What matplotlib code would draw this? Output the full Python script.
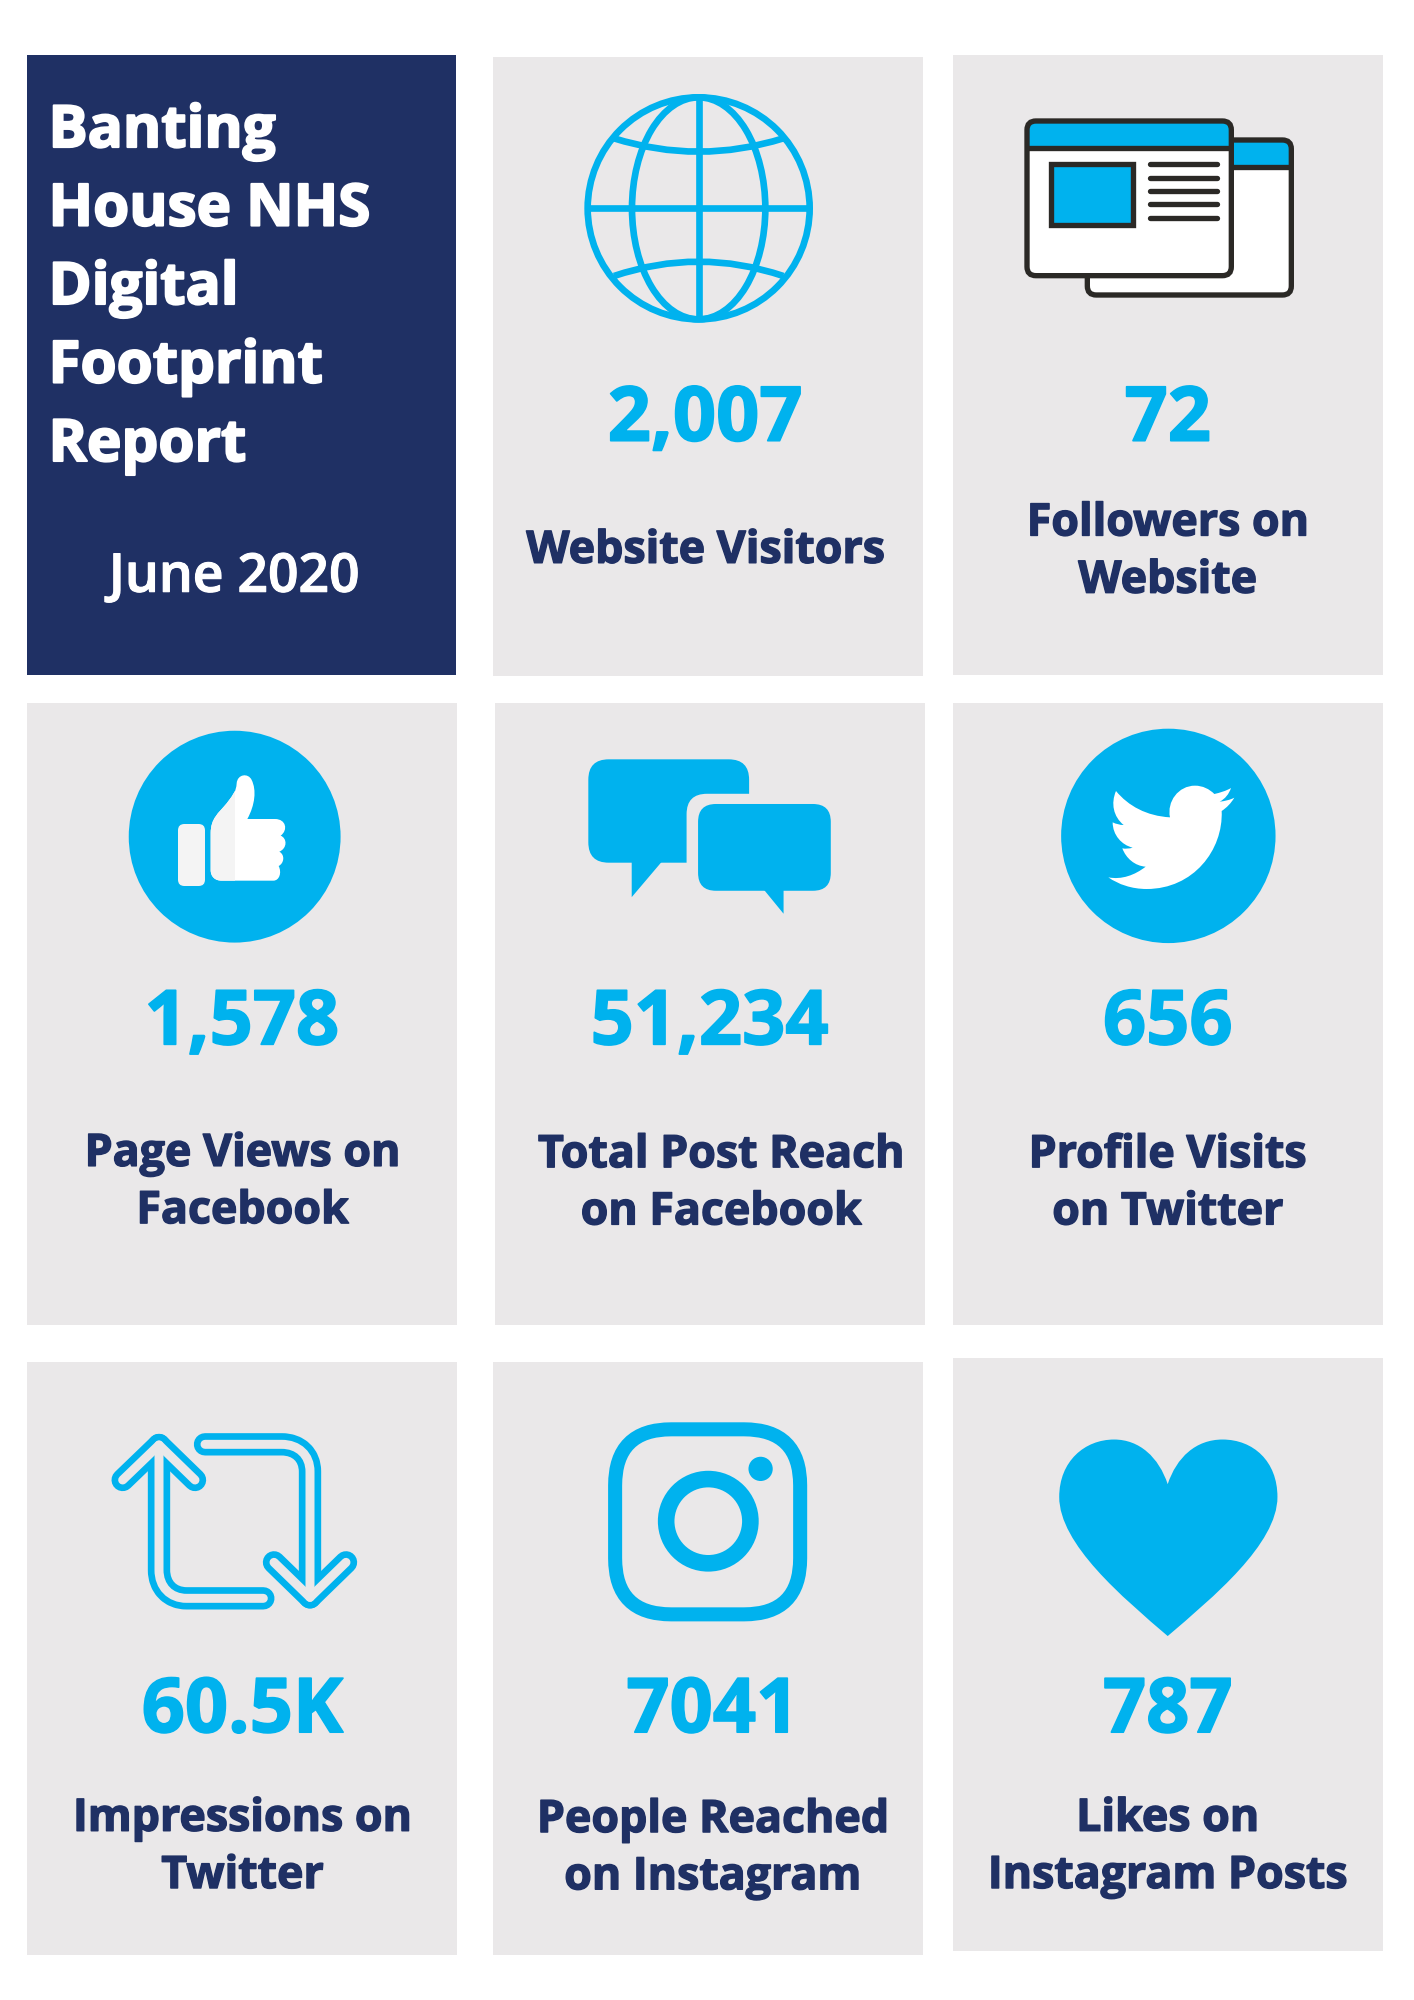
import numpy as np
import matplotlib
matplotlib.use("Agg")
import matplotlib.pyplot as plt
from matplotlib.patches import Rectangle, Circle, Ellipse, FancyBboxPatch, Polygon, PathPatch
from matplotlib.path import Path
import matplotlib.patheffects as pe

plt.rcParams['font.family'] = ['Open Sans', 'DejaVu Sans']

NAVY = '#1f3064'; BLUE = '#00b2ee'; GREY = '#eae8e9'; DARK = '#2b2926'

values = ['2,007', '72', '1,578', '51,234', '656', '60.5K', '7041', '787']
labels = ['Website Visitors', 'Followers on\nWebsite', 'Page Views on\nFacebook', 'Total Post Reach\non Facebook',
          'Profile Visits\non Twitter', 'Impressions on\nTwitter', 'People Reached\non Instagram', 'Likes on\nInstagram Posts']
title_lines = ['Banting', 'House NHS', 'Digital', 'Footprint', 'Report']
date_label = 'June 2020'

panels = [(21, 43, 336, 486), (386, 45, 337, 485), (747, 43, 337, 486),
          (21, 551, 337, 487), (388, 551, 337, 487), (747, 551, 337, 487),
          (21, 1067, 337, 465), (386, 1067, 337, 465), (747, 1064, 337, 465)]
value_pos = [(552.5, 323), (915, 323), (189.5, 796), (556, 796), (915, 796), (190, 1335), (558.5, 1335), (915, 1335)]
label_pos = [(553, 432), (915, 433), (190, 927), (565, 928), (915, 928), (190, 1448), (558.5, 1449), (915, 1448)]

S = 1414 / 1108
fig = plt.figure(figsize=(14.14, 20), dpi=100)
ax = fig.add_axes([0, 0, 1, 1])
ax.set_xlim(0, 1108); ax.set_ylim(2000 / S, 0); ax.axis('off')

def lw(px):
    return px * S * 0.72

def crop(x0, y0):
    return lambda x, y: ((x / 3 + x0) / S, (y / 3 + y0) / S)

def zlw(z):
    return z / 3 * 0.72

def stroke(w, c):
    return [pe.withStroke(linewidth=w, foreground=c)]

for i, (x, y, w, h) in enumerate(panels):
    ax.add_patch(Rectangle((x, y), w, h, fc=NAVY if i == 0 else GREY, ec='none'))

for i, t in enumerate(title_lines):
    ax.text(38, 98 + i * 61.5, t, color='white', fontsize=42, fontweight='bold', ha='left',
            va='center_baseline', path_effects=stroke(1.5, 'white'))
ax.text(183.5, 448, date_label, color='white', fontsize=38.5, fontweight='semibold', ha='center',
        va='center_baseline', path_effects=stroke(0.8, 'white'))

for v, (x, y) in zip(values, value_pos):
    ax.text(x, y, v, color=BLUE, fontsize=54.5, fontweight='bold', ha='center', va='center_baseline',
            path_effects=stroke(1.2, BLUE))
for l, (x, y) in zip(labels, label_pos):
    ax.text(x, y, l, color=NAVY, fontsize=32.2, fontweight='bold', ha='center', va='center', linespacing=1.36,
            path_effects=stroke(1.0, NAVY))

def rr(x, y, w, h, rad, **k):
    ax.add_patch(FancyBboxPatch((x + rad, y + rad), w - 2 * rad, h - 2 * rad, boxstyle=f'round,pad={rad}', **k))

def curve(z, pts, **k):
    verts = [z(*pts[0])]; codes = [Path.MOVETO]
    for seg in pts[1:]:
        if len(seg) == 6:
            verts += [z(seg[0], seg[1]), z(seg[2], seg[3]), z(seg[4], seg[5])]; codes += [Path.CURVE4] * 3
        elif len(seg) == 4:
            verts += [z(seg[0], seg[1]), z(seg[2], seg[3])]; codes += [Path.CURVE3] * 2
        else:
            verts += [z(*seg)]; codes += [Path.LINETO]
    return ax.add_patch(PathPatch(Path(verts, codes), **k))

# globe
z = crop(570, 80)
gl = zlw(20)
c0 = z(386, 385); r0 = 333 / 3 / S
ax.add_patch(Circle(c0, r0, fc='none', ec=BLUE, lw=gl))
ax.add_patch(Ellipse(c0, 2 * 200 / 3 / S, 2 * r0, fc='none', ec=BLUE, lw=gl))
ax.plot(*zip(z(386, 52), z(386, 718)), color=BLUE, lw=gl, solid_capstyle='butt')
ax.plot(*zip(z(53, 385), z(719, 385)), color=BLUE, lw=gl, solid_capstyle='butt')
curve(z, [(132, 175), (386, 255, 640, 175)], fc='none', ec=BLUE, lw=gl)
curve(z, [(132, 588), (386, 502, 640, 588)], fc='none', ec=BLUE, lw=gl)

# browser windows
z = crop(1000, 100)
def win(x0, y0, x1, y1, div, zo):
    a, b = z(x0, y0), z(x1, y1)
    rr(a[0], a[1], b[0] - a[0], b[1] - a[1], 7, fc='white', ec='none', zorder=zo)
    d = z(x0, div)
    rr(a[0], a[1], b[0] - a[0], d[1] - a[1] + 8, 7, fc=BLUE, ec='none', zorder=zo)
    ax.add_patch(Rectangle((a[0], d[1]), b[0] - a[0], 9, fc='white', ec='none', zorder=zo))
    rr(a[0], a[1], b[0] - a[0], b[1] - a[1], 7, fc='none', ec=DARK, lw=zlw(16), zorder=zo)
    ax.plot([a[0], b[0]], [d[1], d[1]], color=DARK, lw=zlw(16), solid_capstyle='butt', zorder=zo)
win(262, 120, 874, 585, 201, 2)
win(81, 63, 694, 527, 143, 3)
a, b = z(152, 193), z(400, 374)
ax.add_patch(Rectangle(a, b[0] - a[0], b[1] - a[1], fc=BLUE, ec=DARK, lw=zlw(16), zorder=4))
for yy in [193, 233, 273, 313, 353]:
    ax.plot(*zip(z(449, yy), z(652, yy)), color=DARK, lw=zlw(16), solid_capstyle='round', zorder=4)

# thumbs up
z = crop(160, 750)
ax.add_patch(Circle(z(224, 260), 83, fc=BLUE, ec='none'))
a, b = z(54, 222), z(135, 408)
rr(a[0], a[1], b[0] - a[0], b[1] - a[1], 5, fc='#f4f4f4', ec='none')
hand = [(185, 392), (340, 392), (358, 392, 366, 368, 356, 348), (372, 340, 376, 315, 358, 305),
        (382, 295, 382, 265, 362, 257), (385, 240, 378, 207, 345, 207), (262, 207),
        (285, 165, 290, 120, 275, 90), (265, 68, 232, 72, 230, 100), (228, 125, 222, 130, 200, 160),
        (175, 190, 152, 205, 152, 250), (152, 360), (152, 380, 165, 392, 185, 392)]
curve(z, hand, fc='white', ec='none')
sh = curve(z, hand, fc='#f4f4f4', ec='none')
a, b = z(140, 60), z(224, 400)
sh.set_clip_path(Rectangle(a, b[0] - a[0], b[1] - a[1], transform=ax.transData))

# speech bubbles
rr(461, 595, 126, 81, 16, fc=BLUE, ec='none')
ax.add_patch(Polygon([(495, 670), (495, 703), (523, 670)], fc=BLUE, ec='none'))
rr(538, 622, 120, 80, 16, fc=GREY, ec='none')
rr(547, 630, 104, 68, 14, fc=BLUE, ec='none')
ax.add_patch(Polygon([(596, 694), (614, 716), (614, 694)], fc=BLUE, ec='none'))

# twitter bird
z = crop(1090, 760)
ax.add_patch(Circle((915.5, 655), 84, fc=BLUE, ec='none'))
bird = [(55, 352), (95, 360, 135, 345, 167, 320), (135, 318, 108, 295, 97, 265), (107, 267, 118, 266, 128, 263),
        (95, 255, 68, 225, 68, 187), (78, 192, 90, 195, 101, 195), (70, 170, 62, 130, 78, 93),
        (115, 138, 170, 168, 240, 172), (230, 125, 265, 77, 315, 77), (338, 77, 358, 87, 373, 102),
        (390, 98, 408, 93, 423, 84), (417, 102, 405, 117, 389, 125), (405, 123, 420, 120, 433, 113),
        (423, 130, 410, 143, 395, 153), (400, 270, 310, 387, 170, 387), (125, 387, 85, 373, 55, 352)]
curve(z, bird, fc='white', ec='none')

# retweet arrows
z = crop(90, 1400)
rt_paths = [
    [(520, 595), (290, 595), (240, 595, 207, 560, 207, 510), (207, 135)],
    [(98, 240), (207, 135), (315, 240)],
    [(345, 133), (575, 133), (625, 133, 660, 165, 660, 215), (660, 592)],
    [(552, 487), (660, 592), (768, 487)],
]
for zorder, width, col in [(2, 67, BLUE), (3, 27, GREY)]:
    for pts in rt_paths:
        p = curve(z, pts, fc='none', ec=col, lw=zlw(width), zorder=zorder)
        p.set_capstyle('round'); p.set_joinstyle('round')

# instagram
rr(482, 1120, 145, 145, 44, fc='none', ec=BLUE, lw=lw(11))
ax.add_patch(Circle((555, 1192), 33, fc='none', ec=BLUE, lw=lw(13)))
ax.add_patch(Circle((596, 1151), 9.5, fc=BLUE, ec='none'))

# heart
heart = [(Path.MOVETO, (915, 1282)), (Path.CURVE4, (880, 1252)), (Path.CURVE4, (830, 1210)), (Path.CURVE4, (830, 1173)),
         (Path.CURVE4, (830, 1145)), (Path.CURVE4, (850, 1128)), (Path.CURVE4, (873, 1128)),
         (Path.CURVE4, (893, 1128)), (Path.CURVE4, (908, 1142)), (Path.CURVE4, (915, 1163)),
         (Path.CURVE4, (922, 1142)), (Path.CURVE4, (937, 1128)), (Path.CURVE4, (958, 1128)),
         (Path.CURVE4, (982, 1128)), (Path.CURVE4, (1001, 1145)), (Path.CURVE4, (1001, 1173)),
         (Path.CURVE4, (1001, 1210)), (Path.CURVE4, (950, 1252)), (Path.CURVE4, (915, 1282)),
         (Path.CLOSEPOLY, (915, 1282))]
ax.add_patch(PathPatch(Path([p for c, p in heart], [c for c, p in heart]), fc=BLUE, ec='none'))

fig.savefig('out.png', dpi=100)
